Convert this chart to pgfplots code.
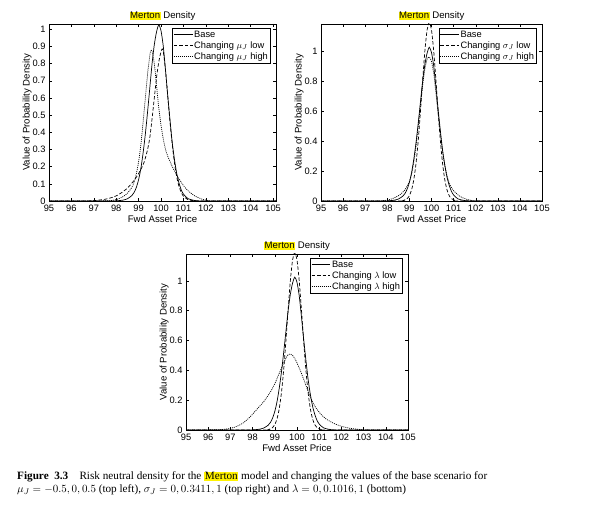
\documentclass[border=0pt]{standalone}
\usepackage{pgfplots}
\pgfplotsset{compat=1.18}
\usepackage{pgfplotstable}
\usepackage{fontspec}
\setmainfont{Liberation Sans}
\newfontfamily\capfont{Liberation Serif}
\setlength{\fboxsep}{0.6pt}

\pgfplotstableread{
x y
95 0
97.5 0
98.0 0.001
98.3 0.005
98.5 0.013
98.7 0.032
98.8 0.05
98.9 0.08
99.0 0.125
99.1 0.19
99.2 0.28
99.3 0.39
99.4 0.52
99.5 0.66
99.6 0.80
99.7 0.91
99.8 0.985
99.9 1.025
100.0 0.99
100.1 0.90
100.2 0.76
100.3 0.61
100.4 0.47
100.5 0.34
100.6 0.24
100.7 0.16
100.8 0.105
100.9 0.065
101.0 0.04
101.2 0.014
101.5 0.003
102.0 0
105.2 0
}\base

\pgfplotstableread{
x y
95 0
96.5 0
97.0 0.002
97.5 0.01
97.8 0.02
98.0 0.03
98.2 0.045
98.5 0.075
98.8 0.12
99.0 0.16
99.2 0.21
99.3 0.25
99.4 0.30
99.5 0.37
99.6 0.48
99.7 0.60
99.8 0.72
99.9 0.81
100.0 0.87
100.05 0.885
100.1 0.87
100.2 0.76
100.3 0.61
100.4 0.46
100.5 0.33
100.6 0.22
100.7 0.14
100.8 0.085
100.9 0.05
101.0 0.028
101.2 0.008
101.5 0.001
102.0 0
105.2 0
}\mulow

\pgfplotstableread{
x y
95 0
97.5 0.001
98.0 0.008
98.3 0.025
98.5 0.045
98.7 0.08
98.8 0.11
98.9 0.16
99.0 0.23
99.1 0.33
99.2 0.46
99.3 0.60
99.4 0.74
99.5 0.85
99.55 0.875
99.6 0.87
99.7 0.80
99.8 0.67
99.9 0.54
100.0 0.44
100.1 0.36
100.2 0.30
100.3 0.26
100.4 0.23
100.5 0.20
100.6 0.175
100.8 0.13
101.0 0.09
101.2 0.06
101.5 0.03
101.8 0.012
102.0 0.005
102.3 0
105.2 0
}\muhigh

\pgfplotstableread{
x y
95 0
98.5 0
98.7 0.002
98.9 0.016
99.0 0.036
99.1 0.075
99.2 0.143
99.3 0.251
99.4 0.404
99.5 0.596
99.6 0.807
99.7 1.00
99.8 1.14
99.9 1.19
100.0 1.14
100.1 1.00
100.2 0.807
100.3 0.596
100.4 0.404
100.5 0.251
100.6 0.143
100.7 0.075
100.8 0.036
100.9 0.016
101.1 0.002
101.3 0
105 0
}\nojump

\pgfplotstableread{
x y
95 0
97.5 0
97.8 0.002
98.0 0.006
98.2 0.014
98.4 0.027
98.6 0.045
98.8 0.075
99.0 0.13
99.1 0.18
99.2 0.26
99.3 0.37
99.4 0.50
99.5 0.64
99.6 0.77
99.7 0.88
99.8 0.945
99.9 0.96
100.0 0.93
100.1 0.85
100.2 0.72
100.3 0.58
100.4 0.45
100.5 0.33
100.6 0.24
100.7 0.17
100.8 0.12
100.9 0.09
101.0 0.068
101.2 0.04
101.4 0.022
101.6 0.011
101.8 0.004
102.0 0
105 0
}\sighigh

\pgfplotstableread{
x y
95 0
96.5 0.002
97.0 0.011
97.3 0.025
97.6 0.05
97.9 0.09
98.2 0.14
98.5 0.19
98.8 0.255
99.0 0.31
99.2 0.38
99.4 0.45
99.5 0.48
99.6 0.505
99.7 0.51
99.8 0.50
99.9 0.48
100.0 0.45
100.2 0.38
100.3 0.34
100.5 0.26
100.6 0.22
100.8 0.16
101.05 0.11
101.3 0.075
101.65 0.045
102.0 0.025
102.4 0.011
102.8 0.004
103.2 0
105 0
}\lamhigh

\pgfplotsset{
  mer/.style={
    scale only axis,
    xmin=95, xmax=105, ymin=0,
    xtick={95,96,...,105},
    tick align=inside,
    major tick length=3pt,
    axis line style={line width=0.5pt},
    tick style={line width=0.4pt, black},
    /pgf/number format/assume math mode=true,
    tick label style={font=\fontsize{9.3}{10}\selectfont},
    label style={font=\fontsize{9.6}{10}\selectfont},
    title style={font=\fontsize{9.6}{10}\selectfont, yshift=-6.5pt},
    title={\colorbox{yellow}{Merton} Density},
    xlabel={Fwd Asset Price},
    ylabel={Value of Probability Density},
    xlabel style={yshift=2pt},
    ylabel style={yshift=-6pt},
    legend style={font=\fontsize{9.3}{10}\selectfont, draw=black, line width=0.5pt,
      at={(0.975,0.975)}, anchor=north east, inner xsep=1pt, inner ysep=1pt,
      row sep=0.3pt, nodes={inner sep=1.2pt}},
    legend cell align=left,
    legend image code/.code={\draw[##1] (0cm,0cm) -- (0.66cm,0cm);},
    every axis plot post/.append style={black, line width=0.7pt, no markers, smooth, tension=0.4},
  },
  bse/.style={solid},
  dsh/.style={dash pattern=on 3.5pt off 2pt},
  dtt/.style={dash pattern=on 1pt off 1pt},
}

\begin{document}
\begin{tikzpicture}
\path[use as bounding box] (0pt,0pt) rectangle (594pt,508pt);

\begin{axis}[mer, at={(49pt,307pt)}, anchor=south west,
  width=227pt, height=177pt, xmax=105.13, ymax=1.03,
  ytick={0,0.1,0.2,0.3,0.4,0.5,0.6,0.7,0.8,0.9,1}]
\addplot[bse] table {\base};
\addlegendentry{Base}
\addplot[dsh] table {\mulow};
\addlegendentry{Changing $\mu_J$ low}
\addplot[dtt] table {\muhigh};
\addlegendentry{Changing $\mu_J$ high}
\end{axis}

\begin{axis}[mer, at={(321pt,307pt)}, anchor=south west,
  width=221pt, height=177pt, ymax=1.18,
  ytick={0,0.2,0.4,0.6,0.8,1}]
\addplot[bse] table {\base};
\addlegendentry{Base}
\addplot[dsh] table {\nojump};
\addlegendentry{Changing $\sigma_J$ low}
\addplot[dtt] table {\sighigh};
\addlegendentry{Changing $\sigma_J$ high}
\end{axis}

\begin{axis}[mer, at={(186pt,78pt)}, anchor=south west,
  width=222pt, height=176pt, ymax=1.18,
  ytick={0,0.2,0.4,0.6,0.8,1}]
\addplot[bse] table {\base};
\addlegendentry{Base}
\addplot[dsh] table {\nojump};
\addlegendentry{Changing $\lambda$ low}
\addplot[dtt] table {\lamhigh};
\addlegendentry{Changing $\lambda$ high}
\end{axis}

\node[anchor=base west, inner sep=0pt, font=\capfont\fontsize{11.2}{13}\selectfont] at (17pt,28pt)
  {\textbf{Figure\ \ 3.3}\quad Risk neutral density for the \colorbox{yellow}{Merton} model and changing the values of the base scenario for};
\node[anchor=base west, inner sep=0pt, font=\capfont\fontsize{11.2}{13}\selectfont] at (17pt,15pt)
  {$\mu_J = -0.5, 0, 0.5$ (top left), $\sigma_J = 0, 0.3411, 1$ (top right) and $\lambda = 0, 0.1016, 1$ (bottom)};
\end{tikzpicture}
\end{document}
